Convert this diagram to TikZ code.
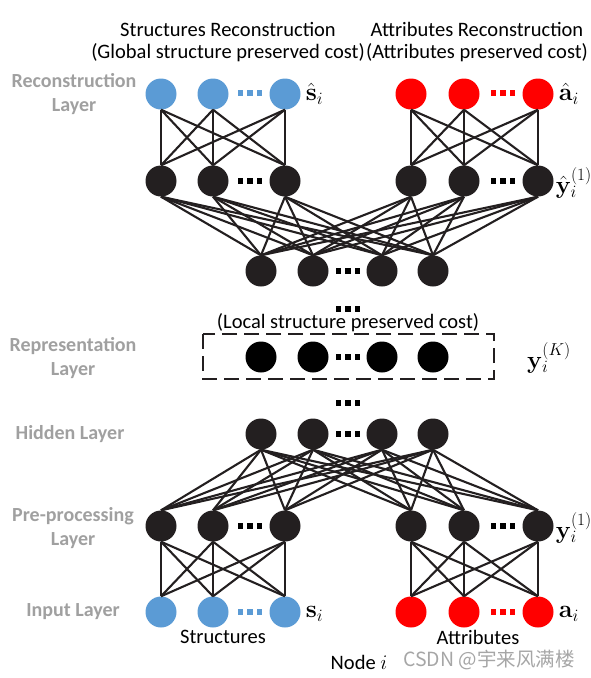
\documentclass[tikz,border=0pt]{standalone}
\usepackage[no-math]{fontspec}
\setmainfont{Carlito}
\newfontfamily\cjkfont{Noto Sans CJK SC}
\usetikzlibrary{positioning}

% Colours of the units
\definecolor{strucblue}{RGB}{91,155,213}
\definecolor{attrred}{RGB}{255,0,0}
\definecolor{unitblack}{RGB}{35,31,32}
\definecolor{layergray}{RGB}{160,160,160}

\tikzset{
  unit/.style={circle, minimum size=31pt, inner sep=0pt},
  sunit/.style={unit, fill=strucblue},
  aunit/.style={unit, fill=attrred},
  hunit/.style={unit, fill=unitblack},
  runit/.style={unit, fill=black},
  link/.style={line width=2.1pt, draw=unitblack},
  layername/.style={font=\fontsize{20}{24}\selectfont\bfseries, text=layergray, align=center},
  caption/.style={font=\fontsize{20.5}{22}\selectfont, align=center},
  vec/.style={font=\fontsize{24}{28}\selectfont, inner sep=0pt},
}
\newcommand{\tridots}{\rule{5.5pt}{5.5pt}\hspace{4pt}\rule{5.5pt}{5.5pt}\hspace{4pt}\rule{5.5pt}{5.5pt}}

\begin{document}
\begin{tikzpicture}[x=1pt, y=-1pt]
\useasboundingbox (0,0) rectangle (590,678);

% Titles of the two reconstruction costs
\node[caption] (stitle) at (228,42) {Structures Reconstruction\\(Global structure preserved cost)};
\node[caption] (atitle) at (477,42) {Attributes Reconstruction\\(Attributes preserved cost)};

% Layer names on the left
\node[layername] (lrec) at (74,94) {Reconstruction\\Layer};
\node[layername] (lrep) at (73,358) {Representation\\Layer};
\node[layername] (lhid) at (70,434) {Hidden Layer};
\node[layername] (lpre) at (73,528) {Pre-processing\\Layer};
\node[layername] (linp) at (73,612) {Input Layer};

% Reconstruction layer
\foreach \n/\x in {1/161,2/213,3/285} \node[sunit] (ts\n) at (\x,94) {};
\foreach \n/\x in {1/411,2/464,3/538} \node[aunit] (ta\n) at (\x,94) {};

% First decoder layer
\foreach \n/\x in {1/161,2/213,3/285} \node[hunit] (us\n) at (\x,181) {};
\foreach \n/\x in {1/411,2/464,3/538} \node[hunit] (ua\n) at (\x,181) {};

% Middle layers
\foreach \n/\x in {1/261,2/313,3/382,4/433} {
  \node[hunit] (d\n) at (\x,271) {};
  \node[runit] (r\n) at (\x,357) {};
  \node[hunit] (h\n) at (\x,434) {};
}

% Pre-processing layer
\foreach \n/\x in {1/161,2/213,3/285} \node[hunit] (ps\n) at (\x,526) {};
\foreach \n/\x in {1/411,2/464,3/538} \node[hunit] (pa\n) at (\x,526) {};

% Input layer
\foreach \n/\x in {1/161,2/213,3/285} \node[sunit] (is\n) at (\x,612) {};
\foreach \n/\x in {1/411,2/464,3/538} \node[aunit] (ia\n) at (\x,612) {};

% Dots between units
\node[text=strucblue] (dts) at (250,93) {\tridots};
\node[text=attrred] (dta) at (503,93) {\tridots};
\node (dus) at (250,181) {\tridots};
\node (dua) at (503,181) {\tridots};
\node (dd) at (348,271) {\tridots};
\node (dr) at (348,357) {\tridots};
\node (dh) at (348,434) {\tridots};
\node (dps) at (250,526) {\tridots};
\node (dpa) at (503,526) {\tridots};
\node[text=strucblue] (dis) at (250,612) {\tridots};
\node[text=attrred] (dia) at (503,612) {\tridots};
\node (dup) at (348,309) {\tridots};
\node (ddown) at (348,403) {\tridots};

% Connections between layers
\foreach \i in {1,2,3} \foreach \j in {1,2,3} {
  \draw[link] (ts\i.south) -- (us\j.north);
  \draw[link] (ta\i.south) -- (ua\j.north);
  \draw[link] (ps\i.south) -- (is\j.north);
  \draw[link] (pa\i.south) -- (ia\j.north);
}
\foreach \i in {1,2,3} \foreach \j in {1,2,3,4} {
  \draw[link] (us\i.south) -- (d\j.north);
  \draw[link] (ua\i.south) -- (d\j.north);
  \draw[link] (h\j.south) -- (ps\i.north);
  \draw[link] (h\j.south) -- (pa\i.north);
}

% Representation box
\draw[line width=2pt, unitblack, dash pattern=on 15pt off 7pt] (203,334) rectangle (494,379);
\node[caption, fill=white, inner sep=0pt] (lcost) at (348,323) {(Local structure preserved cost)};

% Vector labels
\node[vec, right=5pt of ts3] (shat) {$\hat{\mathbf{s}}_i$};
\node[vec, right=5pt of ta3] (ahat) {$\hat{\mathbf{a}}_i$};
\node[vec, right=2pt of ua3, yshift=-2pt] (yhat) {$\hat{\mathbf{y}}_i^{(1)}$};
\node[vec] (yk) at (549,358) {$\mathbf{y}_i^{(K)}$};
\node[vec, right=2pt of pa3, yshift=-2pt] (yone) {$\mathbf{y}_i^{(1)}$};
\node[vec, right=5pt of is3, yshift=-2pt] (svec) {$\mathbf{s}_i$};
\node[vec, right=5pt of ia3, yshift=-2pt] (avec) {$\mathbf{a}_i$};

% Bottom captions
\node[caption] (scap) at (223,637) {Structures};
\node[caption] (acap) at (478,637) {Attributes};
\node[caption] (ncap) at (359,662) {Node $i$};
\node[text=gray!70, font=\cjkfont\fontsize{19.5}{22}\selectfont] (mark) at (489,660) {CSDN @宇来风满楼};

\end{tikzpicture}
\end{document}
